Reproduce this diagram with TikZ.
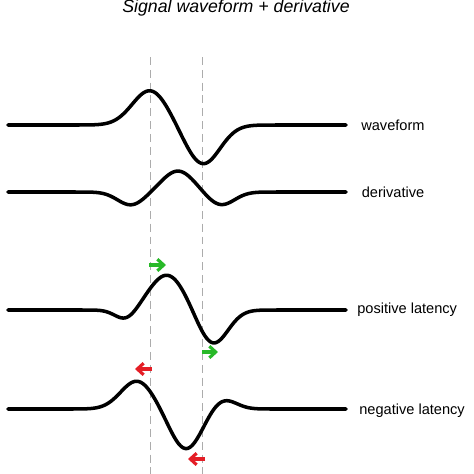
\documentclass[tikz,border=0pt]{standalone}
\usepackage{fontspec}
\setmainfont{Liberation Sans}
\usetikzlibrary{arrows.meta}
\definecolor{arrgreen}{RGB}{40,185,40}
\definecolor{arrred}{RGB}{228,30,38}
\begin{document}
\begin{tikzpicture}[x=0.02cm,y=-0.02cm,
  wave/.style={line width=2pt,line cap=round,black},
  guide/.style={line width=1pt,gray!65,dash pattern=on 4.5pt off 2.8pt},
  lbl/.style={anchor=base west,inner sep=0pt,font=\fontsize{8.3}{10}\selectfont},
  shiftarr/.style={line width=1.8pt,-{Straight Barb[length=3.6pt,width=6.6pt,line width=1.8pt]}}]
\useasboundingbox (0,0) rectangle (474,474);
% title
\node[anchor=base,inner sep=0pt,font=\fontsize{10.1}{12}\selectfont\itshape] (title) at (236,12.3) {Signal waveform + derivative};
% dashed guides
\coordinate (g1t) at (150.5,57); \coordinate (g1b) at (150.5,474);
\coordinate (g2t) at (202.5,57); \coordinate (g2b) at (202.5,474);
\draw[guide] (g1t) -- (g1b);
\draw[guide] (g2t) -- (g2b);
% waveform
\draw[wave] plot[domain=8:346,samples=300] (\x,{125-34.5*exp(-((\x-150)/25)^2)+39*exp(-((\x-203)/24)^2)});
% derivative
\draw[wave] plot[domain=8:346,samples=300] (\x,{192-21*exp(-((\x-178)/22)^2)+13*exp(-((\x-131)/19)^2)+13*exp(-((\x-221)/19)^2)});
% positive latency
\draw[wave] plot[domain=8:346,samples=300] (\x,{310+10*exp(-((\x-126)/15)^2)-35*exp(-((\x-167)/25)^2)+34*exp(-((\x-213)/21)^2)});
% negative latency
\draw[wave] plot[domain=8:346,samples=300] (\x,{409-28*exp(-((\x-137)/23)^2)+40*exp(-((\x-186)/22)^2)-10*exp(-((\x-223)/18)^2)});
% labels
\node[lbl] (lw) at (361,130.5) {waveform};
\node[lbl] (ld) at (361.5,197) {derivative};
\node[lbl] (lp) at (357,313.5) {positive latency};
\node[lbl] (ln) at (359,414.5) {negative latency};
% arrows
\coordinate (pa1) at (149,265); \coordinate (pa2) at (166,265);
\coordinate (pb1) at (202,352); \coordinate (pb2) at (218,352);
\coordinate (na1) at (152,369); \coordinate (na2) at (135,369);
\coordinate (nb1) at (205,459); \coordinate (nb2) at (188,459);
\draw[shiftarr,arrgreen] (pa1) -- (pa2);
\draw[shiftarr,arrgreen] (pb1) -- (pb2);
\draw[shiftarr,arrred] (na1) -- (na2);
\draw[shiftarr,arrred] (nb1) -- (nb2);
\end{tikzpicture}
\end{document}
